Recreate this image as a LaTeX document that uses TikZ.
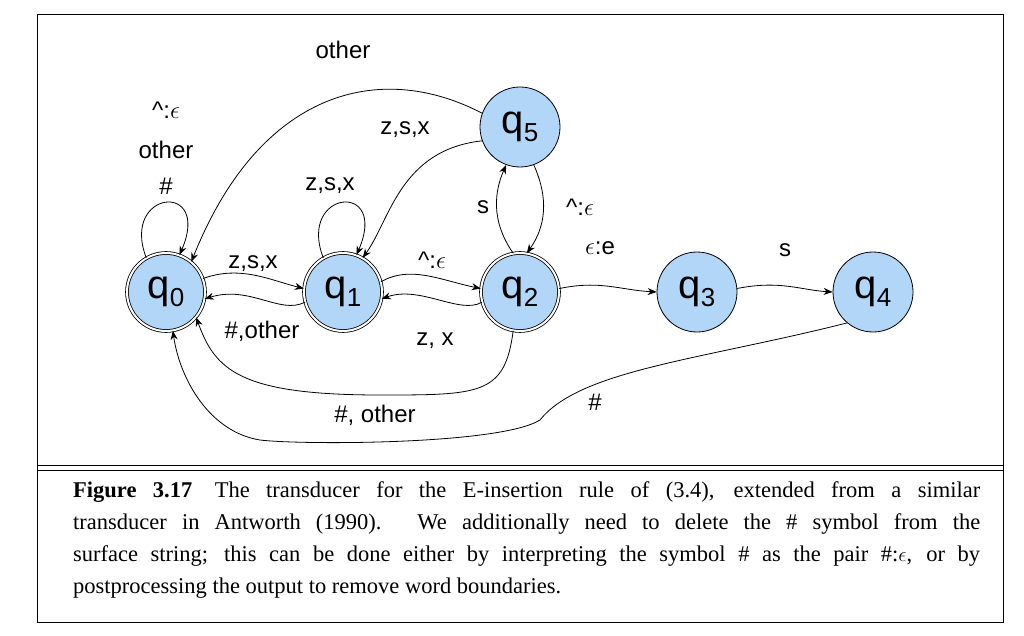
\documentclass[tikz,border=0pt]{standalone}
\usepackage{fontspec}
\setmainfont{Liberation Serif}
\newfontfamily\lab{Liberation Sans}
\usetikzlibrary{arrows.meta}
\definecolor{nodeblue}{RGB}{178,214,248}
\newcommand{\qq}[1]{q\raisebox{-8pt}{\fontsize{26}{26}\selectfont #1}}
\begin{document}
\begin{tikzpicture}[x=1pt,y=-1pt,
  st/.style={circle,draw,line width=0.8pt,fill=nodeblue,minimum size=80pt,inner sep=0pt,font=\lab\fontsize{40}{40}\selectfont},
  acc/.style={st,double,double distance=2pt,minimum size=78pt},
  e/.style={-{Stealth[length=9pt,width=7pt]},line width=0.8pt},
  lb/.style={font=\lab\fontsize{24}{24}\selectfont,inner sep=1pt}]
\useasboundingbox (0,0) rectangle (1024,636);
\draw[line width=0.8pt] (37,14) rectangle (1003,622);
\draw[line width=0.8pt] (37,465) -- (1003,465);
\draw[line width=0.8pt] (37,470) -- (1003,470);
\node[acc] (q0) at (166,292) {\qq0};
\node[acc] (q1) at (343,292) {\qq1};
\node[acc] (q2) at (520,292) {\qq2};
\node[st] (q3) at (697,292) {\qq3};
\node[st] (q4) at (873,292) {\qq4};
\node[st] (q5) at (520,127) {\qq5};
% q0 loop
\draw[e] (q0.120) .. controls (120,190) and (212,180) .. (q0.70);
\node[lb] (l0a) at (166,110) {\^{}:$\epsilon$};
\node[lb] (l0b) at (166,150) {other};
\node[lb] (l0c) at (166,186) {\#};
% q0 <-> q1
\draw[e] (q0.20) .. controls (240,265) and (270,280) .. (q1.175);
\node[lb] (l01) at (253,264) {z,s,x};
\draw[e] (q1.195) .. controls (280,315) and (250,285) .. (q0.350);
\node[lb] (l10) at (262,331) {\#,other};
% q1 loop
\draw[e] (q1.120) .. controls (297,190) and (389,180) .. (q1.70);
\node[lb] (l11) at (330,186) {z,s,x};
% q1 <-> q2
\draw[e] (q1.15) .. controls (410,265) and (440,280) .. (q2.175);
\node[lb] (l12) at (432,260) {\^{}:$\epsilon$};
\draw[e] (q2.195) .. controls (460,315) and (420,285) .. (q1.350);
\node[lb] (l21) at (435,341) {z, x};
% q2 <-> q5
\draw[e] (q2.100) .. controls (490,220) and (495,190) .. (q5.250);
\node[lb] (l25) at (483,207) {s};
\draw[e] (q5.290) .. controls (545,190) and (550,220) .. (q2.80);
\node[lb] (l52) at (580,207) {\^{}:$\epsilon$};
% q2 -> q3
\draw[e] (q2.5) .. controls (600,280) and (620,290) .. (q3.west);
\node[lb] (l23) at (600,248) {$\epsilon$:e};
% q3 -> q4
\draw[e] (q3.5) .. controls (780,280) and (800,290) .. (q4.west);
\node[lb] (l34) at (785,250) {s};
% q5 -> q0
\draw[e] (q5.160) .. controls (380,60) and (260,90) .. (q0.50);
\node[lb] (l50) at (343,50) {other};
% q5 -> q1
\draw[e] (q5.200) .. controls (400,150) and (390,220) .. (q1.60);
\node[lb] (l51) at (405,130) {z,s,x};
% q2 -> q0
\draw[e] (q2.260) .. controls (505,395) and (480,395) .. (380,395) .. controls (240,395) and (215,370) .. (q0.320);
\node[lb] (l20) at (375,415) {\#, other};
% q4 -> q0
\draw[e] (q4.230) .. controls (700,360) and (580,370) .. (540,420) .. controls (500,445) and (300,445) .. (260,440) .. controls (210,432) and (180,380) .. (q0.280);
\node[lb] (l40) at (595,402) {\#};
% caption
\node[anchor=north west,text width=907pt,align=justify,inner sep=0pt,font=\fontsize{22.5}{32}\selectfont] (cap) at (73,481)
{\textbf{Figure~3.17}\hspace{1em}The transducer for the E-insertion rule of (3.4), extended from a similar\linebreak
transducer in Antworth (1990). We additionally need to delete the \# symbol from the\linebreak
surface string; this can be done either by interpreting the symbol \# as the pair \#:$\epsilon$, or by\linebreak
postprocessing the output to remove word boundaries.};
\end{tikzpicture}
\end{document}
